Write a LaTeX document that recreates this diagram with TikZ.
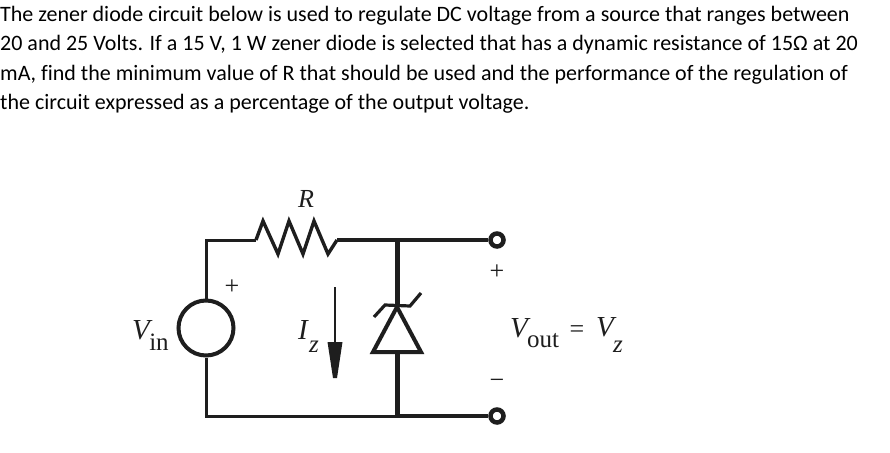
\documentclass[tikz,border=0pt]{standalone}
\usepackage{fontspec}
\setmainfont[Ligatures=NoCommon]{Carlito}
\newfontfamily\timesf{Liberation Serif}
\definecolor{ink}{HTML}{1E1E1E}
\tikzset{
  wire/.style={draw=ink,line width=3.4pt,line join=miter},
  thinwire/.style={draw=ink,line width=2.6pt},
  para/.style={anchor=base west,inner sep=0pt,font=\fontsize{22}{26}\selectfont,text=black},
  lab/.style={inner sep=0pt,text=ink,font=\timesf\fontsize{29}{32}\selectfont},
  labit/.style={lab,font=\timesf\itshape\fontsize{29}{32}\selectfont},
  sub/.style={lab,font=\timesf\fontsize{25}{28}\selectfont},
  subit/.style={lab,font=\timesf\itshape\fontsize{25}{28}\selectfont},
  sgn/.style={lab,font=\timesf\fontsize{26}{30}\selectfont},
  src/.style={circle,draw=ink,line width=4pt,minimum size=55pt,inner sep=0pt},
  term/.style={circle,draw=ink,line width=4.5pt,fill=white,minimum size=13pt,inner sep=0pt},
}
\begin{document}
\begin{tikzpicture}[x=1pt,y=-1pt]
\useasboundingbox[fill=white] (0,0) rectangle (890,452);
% question text
\node[para] (l1) at (0,22) {The zener diode circuit below is used to regulate DC voltage from a source that ranges between};
\node[para] (l2) at (0,51) {20 and 25 Volts. If a 15 V, 1 W zener diode is selected that has a dynamic resistance of 15Ω at 20};
\node[para] (l3) at (0,80) {mA, find the minimum value of R that should be used and the performance of the regulation of};
\node[para] (l4) at (0,109) {the circuit expressed as a percentage of the output voltage.};
% anchors
\node[src] (vs) at (206,328) {};
\coordinate (tl) at (206,240);
\coordinate (bl) at (206,416);
\coordinate (rs) at (256,240);
\coordinate (re) at (337,240);
\coordinate (jt) at (397,240);
\coordinate (jb) at (397,416);
\coordinate (apex) at (397,307);
\coordinate (bm) at (397,352);
\node[term] (tt) at (497,240) {};
\node[term] (tb) at (497,416) {};
% wires
\draw[wire,line width=3pt] (vs.north) -- (tl) -- (rs);
\draw[wire] (rs) -- (263,221) -- (278,254) -- (289,221) -- (303,254) -- (314,221) -- (328,254) -- (re);
\draw[wire] (re) -- (jt);
\draw[wire] (jt) -- (tt.west);
\draw[wire,line width=3pt] (vs.south) -- (bl) -- (jb);
\draw[wire] (jb) -- (tb.west);
\draw[wire,line width=5pt] (jt) -- (apex);
\draw[wire,line width=5pt] (bm) -- (jb);
% zener diode
\draw[wire,line width=4pt] (apex) -- (421,352) -- (373,352) -- cycle;
\draw[wire,line width=3.2pt] (374,317) -- (385,305) -- (410,306) -- (421,293);
% current arrow
\coordinate (as) at (335,287);
\coordinate (ab) at (335,342);
\coordinate (at) at (335,378);
\draw[thinwire] (as) -- (ab);
\fill[ink] (327.5,342) -- (342.5,342) -- (337,378) -- (333,378) -- cycle;
% labels
\node[labit,font=\timesf\itshape\fontsize{26}{28}\selectfont] (R) at (306,199) {R};
\node[sgn] (pin) at (232,287) {+};
\node[labit] (vin) at (141,330) {V};
\node[sub] (vinsub) at (159,342) {in};
\node[labit] (iz) at (303,330) {I};
\node[subit] (izsub) at (314,347) {z};
\node[sgn] (pout) at (497,272) {+};
\node[sgn] (mout) at (497,384) {\char"2212};
\node[labit] (vo) at (519,328) {V};
\node[sub] (vosub) at (543,341) {out};
\node[lab,font=\timesf\fontsize{26}{28}\selectfont] (eq) at (577,332) {=};
\node[labit] (vz) at (605,327) {V};
\node[subit] (vzsub) at (618,347) {z};
\end{tikzpicture}
\end{document}
